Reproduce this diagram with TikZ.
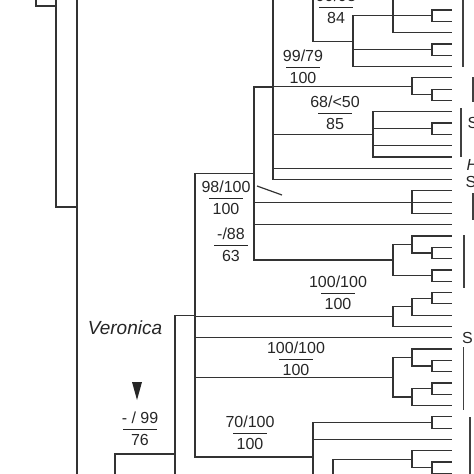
\documentclass[tikz,border=0pt]{standalone}
\usepackage{fontspec}
\setmainfont{Liberation Sans}
\begin{document}
\begin{tikzpicture}[x=1pt,y=-1pt,line width=1.2pt,
  branch/.style={draw=black!80},
  clade/.style={draw=black!75,line width=1.2pt},
  bsval/.style={align=center,inner xsep=4pt,inner ysep=0pt,
    font=\fontsize{16}{22}\selectfont,text=black!85,
    path picture={\draw[black!85,line width=1pt]
      ([xshift=-17pt]path picture bounding box.center) --
      ([xshift=17pt]path picture bounding box.center);}},
  taxon/.style={anchor=west,inner sep=0pt,font=\fontsize{16}{18}\selectfont,text=black!85}]
\useasboundingbox (0,0) rectangle (474,474);
\clip (0,0) rectangle (474,474);
%%%% leaves
\foreach \k in {0,...,42}
  \coordinate (L\k) at (452,{-1.3+11.3*\k});
%%%% internal nodes
\coordinate (a1) at (432,15.65);
\coordinate (a2) at (393,15.65);
\coordinate (a3) at (432,49.55);
\coordinate (a4) at (353,41.1);
\coordinate (a5) at (313,-5.5);
\coordinate (a5up) at (313,-40);
\coordinate (b1) at (432,94.75);
\coordinate (b2) at (412,86.3);
\coordinate (c1) at (432,128.65);
\coordinate (c2) at (373,134.3);
\coordinate (r1) at (273,87);
\coordinate (d1) at (412,202.1);
\coordinate (e1) at (432,252.95);
\coordinate (e2) at (412,244.5);
\coordinate (e3) at (432,275.55);
\coordinate (e4) at (393,260);
\coordinate (r2) at (254,173.5);
\coordinate (f1) at (432,298.15);
\coordinate (f2) at (412,306.6);
\coordinate (f3) at (393,316.5);
\coordinate (g1) at (432,365.95);
\coordinate (g2) at (412,357.5);
\coordinate (g3) at (432,388.55);
\coordinate (g4) at (412,397);
\coordinate (g5) at (393,377.25);
\coordinate (h1) at (432,422.45);
\coordinate (h2) at (432,467.65);
\coordinate (h3) at (412,459.2);
\coordinate (h4) at (333,491.5);
\coordinate (h4dn) at (333,524);
\coordinate (h5) at (313,457);
\coordinate (r3) at (195,315.25);
\coordinate (r4) at (175,454);
\coordinate (r4dn) at (175,592);
\coordinate (r5) at (115,520);
\coordinate (n77) at (77,207);
\coordinate (n77up) at (77,-40);
\coordinate (n77dn) at (77,520);
\coordinate (n56) at (56,6);
\coordinate (n56up) at (56,-40);
\coordinate (n36) at (36,-40);
%%%% upper clade
\draw[branch] (a1) |- (L1) (a1) |- (L2);
\draw[branch] (a2) |- (L0) (a2) |- (a1) (a2) |- (L3);
\draw[branch] (a3) |- (L4) (a3) |- (L5);
\draw[branch] (a4) |- (a2) (a4) |- (a3) (a4) |- (L6);
\draw[branch] (a5up) -- (a5) |- (a4);
\draw[branch] (b1) |- (L8) (b1) |- (L9);
\draw[branch] (b2) |- (L7) (b2) |- (b1);
\draw[branch] (c1) |- (L11) (c1) |- (L12);
\draw[branch] (c2) |- (L10) (c2) |- (c1) (c2) |- (L13) (c2) |- (L14);
\draw[branch] (r1) |- (a5) (r1) |- (b2) (r1) |- (c2) (r1) |- (L15) (r1) |- (L16);
%
\draw[branch] (d1) |- (L17) (d1) |- (L18) (d1) |- (L19);
\draw[branch] (e1) |- (L22) (e1) |- (L23);
\draw[branch] (e2) |- (L21) (e2) |- (e1);
\draw[branch] (e3) |- (L24) (e3) |- (L25);
\draw[branch] (e4) |- (e2) (e4) |- (e3);
\draw[branch] (r2) |- (r1) (r2) |- (d1) (r2) |- (L20) (r2) |- (e4);
%%%% lower clades
\draw[branch] (f1) |- (L26) (f1) |- (L27);
\draw[branch] (f2) |- (f1) (f2) |- (L28);
\draw[branch] (f3) |- (f2) (f3) |- (L29);
\draw[branch] (g1) |- (L32) (g1) |- (L33);
\draw[branch] (g2) |- (L31) (g2) |- (g1);
\draw[branch] (g3) |- (L34) (g3) |- (L35);
\draw[branch] (g4) |- (g3) (g4) |- (L36);
\draw[branch] (g5) |- (g2) (g5) |- (g4);
\draw[branch] (h1) |- (L37) (h1) |- (L38);
\draw[branch] (h2) |- (L41) (h2) |- (L42);
\draw[branch] (h3) |- (L40) (h3) |- (h2);
\draw[branch] (h4dn) -- (h4) |- (h3);
\draw[branch] (h5) |- (h1) (h5) |- (L39) (h5) |- (h4);
\draw[branch] (r3) |- (r2) (r3) |- (f3) (r3) |- (L30) (r3) |- (g5) (r3) |- (h5);
%%%% backbone
\draw[branch] (r4dn) -- (r4) |- (r3);
\draw[branch] (r5) |- (r4);
\draw[branch] (n77up) -- (n77dn);
\draw[branch] (n56up) -- (n56) |- (n77);
\draw[branch] (n36) |- (n56);
%%%% broken-branch tick
\coordinate (tickA) at (257,186);
\coordinate (tickB) at (282,195);
\draw[branch] (tickA) -- (tickB);
%%%% support values
\node[bsval] (s0) at (336,7) {99/98\\84};
\node[bsval] (s1) at (303,67) {99/79\\100};
\node[bsval] (s2) at (335,113) {68/<50\\85};
\node[bsval] (s3) at (226,198) {98/100\\100};
\node[bsval] (s4) at (231,245) {-/88\\63};
\node[bsval] (s5) at (338,293) {100/100\\100};
\node[bsval] (s6) at (296,359) {100/100\\100};
\node[bsval] (s7) at (250,433) {70/100\\100};
\node[bsval] (s8) at (140,429) {- / 99\\76};
%%%% genus and marker
\node[font=\fontsize{19}{22}\selectfont\itshape,text=black!85] (genus) at (125,328) {Veronica};
\coordinate (mark) at (137,400);
\fill[black!85] (mark) -- ++(-5,-18) -- ++(10,0) -- cycle;
%%%% clade bars and labels
\draw[clade] (463,-10) -- (463,67);
\draw[clade,line width=3pt] (473,77) -- (473,102);
\draw[clade] (461,108) -- (461,157);
\draw[clade,line width=3pt] (473,193) -- (473,220);
\draw[clade] (464,235) -- (464,288);
\draw[clade] (463.5,347) -- (463.5,410);
\draw[clade] (470,417) -- (470,480);
\node[taxon] (t1) at (467,123) {S};
\node[taxon,font=\fontsize{16}{18}\selectfont\itshape] (t2) at (466,165) {H};
\node[taxon] (t3) at (465,182) {S};
\node[taxon] (t4) at (461.5,338) {S};
\end{tikzpicture}
\end{document}
